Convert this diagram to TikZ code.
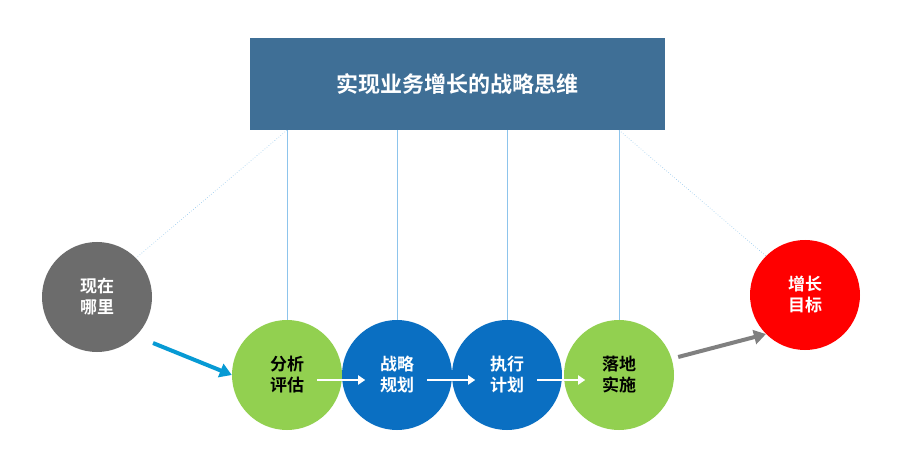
\documentclass[tikz,border=0pt]{standalone}
\usepackage{fontspec}
\newfontfamily\cjk{Noto Sans CJK SC}[BoldFont={Noto Sans CJK SC Bold}]
\usetikzlibrary{arrows.meta}
\definecolor{titleblue}{HTML}{3F6F96}
\definecolor{stepblue}{HTML}{0A6FC2}
\definecolor{stepgreen}{HTML}{92D050}
\definecolor{linkblue}{HTML}{8DC4EC}
\tikzset{
  stage/.style={circle, minimum size=110pt, inner sep=0pt, text=white, font=\cjk\bfseries\fontsize{17}{21}\selectfont, align=center},
  link/.style={linkblue, line width=0.6pt},
  flow/.style={white, line width=2.5pt, -{Triangle[length=7pt,width=9pt]}}
}
\begin{document}
\begin{tikzpicture}[x=1pt,y=-1pt]
      \useasboundingbox[fill=white] (0,0) rectangle (897,465);
      \node[fill=titleblue, minimum width=415pt, minimum height=92pt, text=white, font=\cjk\bfseries\fontsize{22}{26}\selectfont] (title) at (457.5,84) {实现业务增长的战略思维};

      \node[stage, fill=gray!85!black, text=white] (now) at (97,297) {现在\\哪里};
      \node[stage, fill=red] (goal) at (805,295) {增长\\目标};
      \node[stage, fill=stepgreen, text=black] (s1) at (287,375) {分析\\评估};
      \node[stage, fill=stepblue] (s2) at (397,375) {战略\\规划};
      \node[stage, fill=stepblue] (s3) at (507,375) {执行\\计划};
      \node[stage, fill=stepgreen, text=black] (s4) at (619,375) {落地\\实施};

      \foreach \s in {s1, s2, s3, s4}
        \draw[link] (\s.north |- title.south) -- (\s.north);
      \draw[link, dotted] (s1.north |- title.south) -- (now.north east);
      \draw[link, dotted] (s4.north |- title.south) -- (goal.north west);

      \draw[flow] (s1.east) ++(-25,5) -- ++(48,0);
      \draw[flow] (s2.east) ++(-25,5) -- ++(48,0);
      \draw[flow] (s3.east) ++(-25,5) -- ++(48,0);
      \draw[stepblue!70!cyan, line width=4pt, -{Triangle[length=12pt,width=14pt]}] (now.south east) ++(17,7) -- (s1.west);
      \draw[gray, line width=4pt, -{Triangle[length=12pt,width=14pt]}] (s4.east) ++(4,-18) -- (goal.south west);
\end{tikzpicture}
\end{document}
